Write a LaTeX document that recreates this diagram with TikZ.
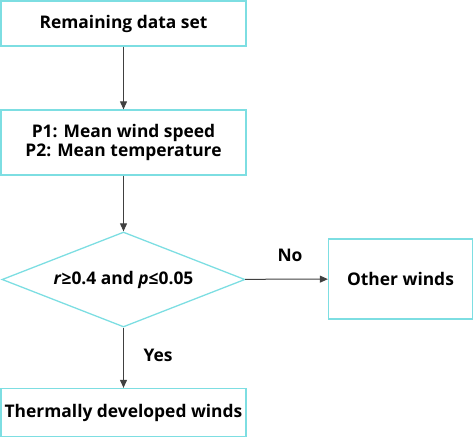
\documentclass[tikz,border=0pt]{standalone}
\usepackage{fontspec}
\setmainfont{Open Sans}
\usetikzlibrary{shapes.geometric,arrows.meta}
\definecolor{bord}{RGB}{125,222,226}
\definecolor{arr}{RGB}{64,64,64}
\tikzset{
  txt/.style={font=\bfseries\fontsize{17.4}{20}\selectfont, text=black},
  box/.style={txt, draw=bord, line width=1.3pt, rectangle, align=center, inner sep=0pt},
  dia/.style={txt, draw=bord, line width=1.3pt, diamond, inner sep=0pt, align=center},
  flow/.style={draw=arr, line width=1pt, -{Triangle[length=8pt,width=7pt]}},
  lbl/.style={txt}
}
\begin{document}
\begin{tikzpicture}[x=1pt,y=-1pt]
\useasboundingbox (0,0) rectangle (474,437);
\node[box, minimum width=245pt, minimum height=45pt] (b1) at (123.5,23.5) {Remaining data set};
\node[box, minimum width=245pt, minimum height=65pt] (b2) at (123.5,142.5) {P1: Mean wind speed\\[-1pt]P2: Mean temperature};
\node[dia, minimum width=243pt, minimum height=95pt, aspect=2.56] (d) at (123.5,279.5) {\textit{r}≥0.4 and \textit{p}≤0.05};
\node[box, minimum width=144pt, minimum height=80pt] (o) at (400.5,279) {Other winds};
\node[box, minimum width=245pt, minimum height=48pt] (t) at (123.5,412.5) {Thermally developed winds};
\draw[flow] (b1) -- (b2);
\draw[flow] (b2) -- (d);
\draw[flow] (d) -- (o);
\draw[flow] (d) -- (t);
\node[lbl] (no) at (290,255) {No};
\node[lbl] (yes) at (158,355) {Yes};
\end{tikzpicture}
\end{document}
